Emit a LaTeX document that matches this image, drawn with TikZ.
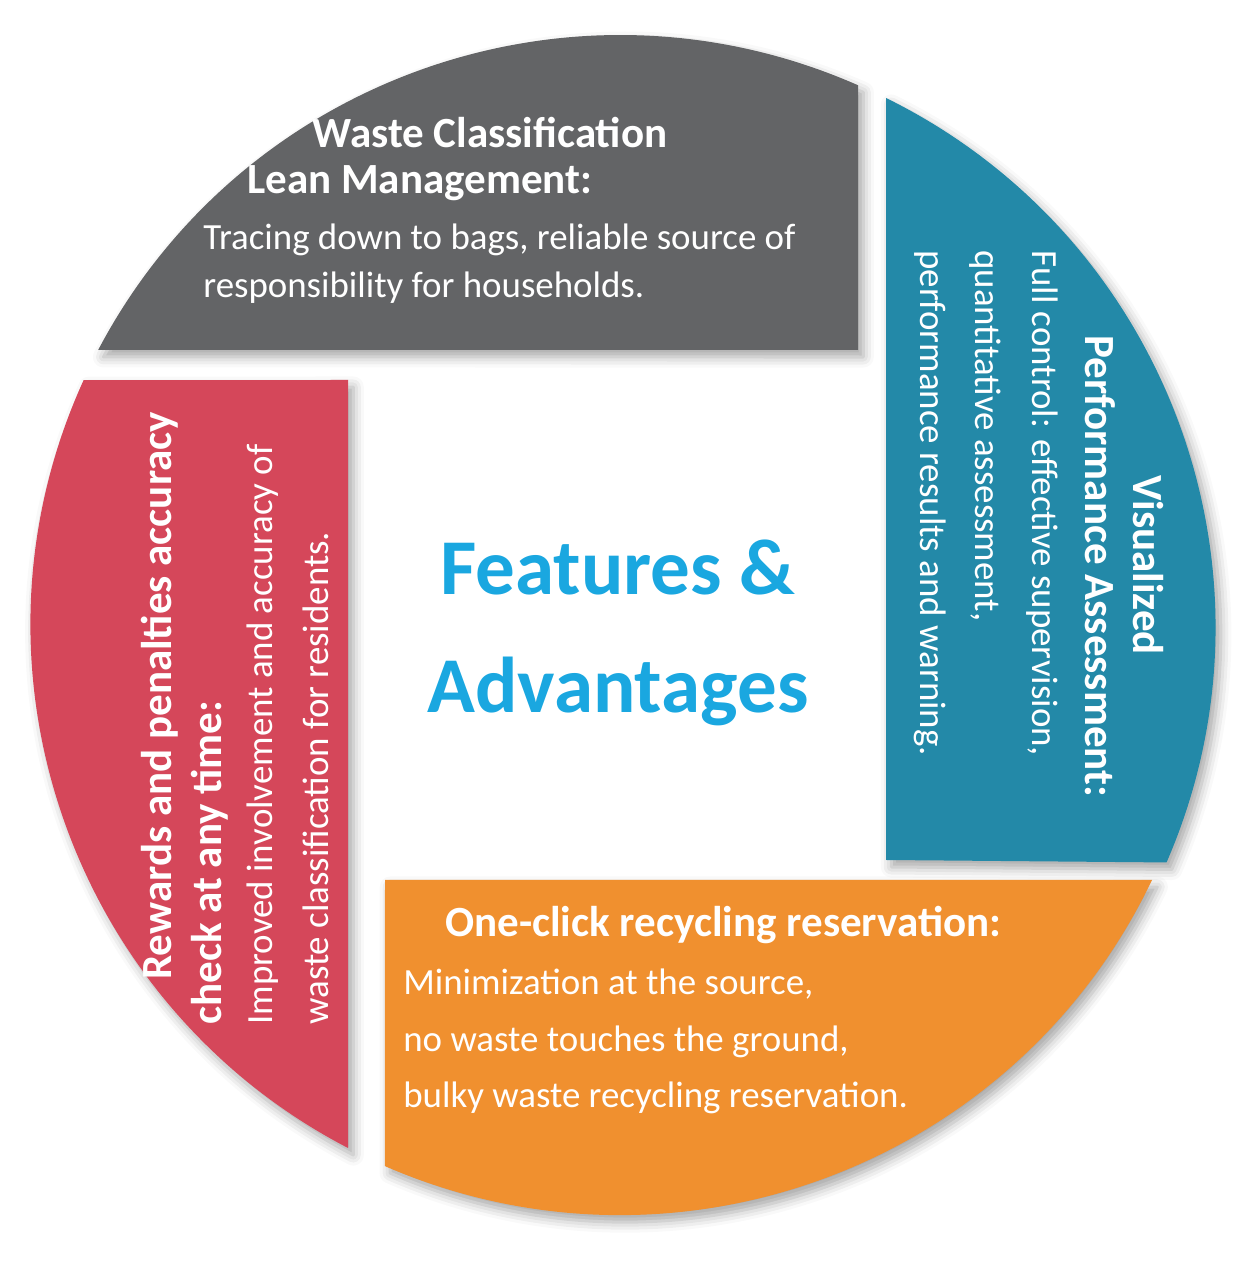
\documentclass[tikz,border=0pt]{standalone}
\usepackage{fontspec}
\setmainfont{Carlito}
\usetikzlibrary{shadows.blur}
\definecolor{cgray}{HTML}{636466}
\definecolor{cteal}{HTML}{2389A8}
\definecolor{corange}{HTML}{F0902F}
\definecolor{cred}{HTML}{D5475A}
\definecolor{cblue}{HTML}{1AA7E0}
\begin{document}
\begin{tikzpicture}[x=0.02cm,y=0.02cm,
  seg/.style={blur shadow={shadow xshift=3pt,shadow yshift=-4pt,shadow blur radius=6pt,shadow opacity=35}},
  tt/.style={text=white,font=\fontsize{24.5}{28}\selectfont\bfseries,inner sep=0pt},
  bd/.style={text=white,font=\fontsize{21}{25}\selectfont,inner sep=0pt}]
\useasboundingbox (0,0) rectangle (1244,1264);
\coordinate (c) at (620,639);
% gray
\path[seg,fill=cgray] (c) ++(152.2:11.8cm) arc[start angle=152.2,end angle=66.2,radius=11.8cm] -- (858,914) -- cycle;
% teal
\path[seg,fill=cteal] (886,404) -- (886,1166) arc[start angle=63.8,end angle=-23.5,radius=11.8cm] -- cycle;
% orange
\path[seg,fill=corange] (385,384) -- (1152,384) arc[start angle=-25.6,end angle=-113.5,radius=11.8cm] -- cycle;
% red
\path[seg,fill=cred] (348,884) -- (348,116) arc[start angle=242.5,end angle=155.5,radius=11.8cm] -- cycle;

\node[text=cblue,font=\fontsize{45}{54}\selectfont\bfseries,align=center] (t) at (618,631) {Features \&\\[0.3em]Advantages};

\node[tt] (g1) at (490,1131) {Waste Classification};
\node[tt,anchor=west] (g2) at (247,1081) {Lean Management:};
\node[bd,anchor=west] (g3) at (203,1024) {Tracing down to bags, reliable source of};
\node[bd,anchor=west] (g4) at (203,976) {responsibility for households.};

\node[tt,rotate=-90] (b1) at (1148,699) {Visualized};
\node[tt,rotate=-90,anchor=west] (b2) at (1100,929) {Performance Assessment:};
\node[bd,rotate=-90,anchor=west] (b3) at (1042,1014) {Full control: effective supervision,};
\node[bd,rotate=-90,anchor=west] (b4) at (985,1014) {quantitative assessment,};
\node[bd,rotate=-90,anchor=west] (b5) at (930,1014) {performance results and warning.};

\node[tt,anchor=west] (o1) at (445,339) {One-click recycling reservation:};
\node[bd,anchor=west] (o2) at (403,280) {Minimization at the source,};
\node[bd,anchor=west] (o3) at (403,222) {no waste touches the ground,};
\node[bd,anchor=west] (o4) at (403,166) {bulky waste recycling reservation.};

\node[tt,rotate=90,anchor=west] (r1) at (160,284) {Rewards and penalties accuracy};
\node[tt,rotate=90,anchor=west] (r2) at (210,239) {check at any time:};
\node[bd,rotate=90,anchor=west] (r3) at (263,239) {Improved involvement and accuracy of};
\node[bd,rotate=90,anchor=west] (r4) at (316,239) {waste classification for residents.};
\end{tikzpicture}
\end{document}
